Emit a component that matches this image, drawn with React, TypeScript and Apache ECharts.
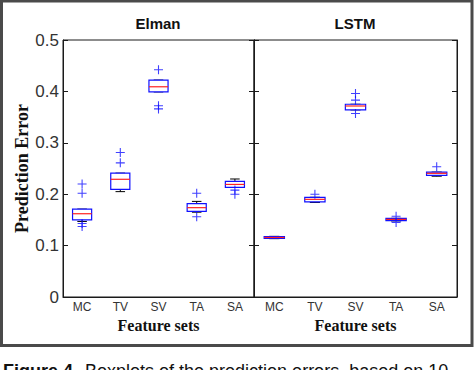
import React, { useEffect, useRef } from "react";
import * as echarts from "echarts";

const categories = ["MC", "TV", "SV", "TA", "SA"];
const yTicks = [0, 0.1, 0.2, 0.3, 0.4, 0.5];

// [lower whisker, Q1, median, Q3, upper whisker]
const elmanBoxes = [
  [0.147, 0.15, 0.162, 0.171, 0.171],
  [0.205, 0.2095, 0.229, 0.241, 0.241],
  [0.399, 0.399, 0.409, 0.422, 0.422],
  [0.165, 0.1667, 0.1738, 0.1816, 0.186],
  [0.2134, 0.2134, 0.219, 0.225, 0.2296],
];
// [category index, value]
const elmanOutliers = [
  [0, 0.22], [0, 0.202], [0, 0.143], [0, 0.137],
  [1, 0.281], [1, 0.261],
  [2, 0.442], [2, 0.372], [2, 0.366],
  [3, 0.202], [3, 0.156],
  [4, 0.208], [4, 0.2],
];

const lstmBoxes = [
  [0.1135, 0.1138, 0.1158, 0.1175, 0.118],
  [0.184, 0.185, 0.19, 0.194, 0.194],
  [0.364, 0.364, 0.3716, 0.375, 0.375],
  [0.148, 0.1485, 0.151, 0.153, 0.153],
  [0.235, 0.2367, 0.2406, 0.243, 0.243],
];
const lstmOutliers = [
  [1, 0.2],
  [2, 0.396], [2, 0.383], [2, 0.357],
  [3, 0.157], [3, 0.145],
  [4, 0.2535],
];

const panelTitles = ["Elman", "LSTM"];
const xName = "Feature sets";
const yName = "Prediction Error";
const captionLabel = "Figure 4.";
const captionText = "Boxplots of the prediction errors, based on 10";

const SANS = "Liberation Sans, Arial, sans-serif";
const SERIF = "Liberation Serif, Times New Roman, serif";
const BLUE = "#1010ff";
const PLUS = "path://M4.4,0H5.6V4.4H10V5.6H5.6V10H4.4V5.6H0V4.4H4.4Z";

function renderBox(params: any, api: any) {
  const idx = api.value(0);
  const lw = api.coord([idx, api.value(1)]);
  const q1 = api.coord([idx, api.value(2)]);
  const md = api.coord([idx, api.value(3)]);
  const q3 = api.coord([idx, api.value(4)]);
  const uw = api.coord([idx, api.value(5)]);
  const band = api.size([1, 0])[0];
  const bw = band * 0.5;
  const cw = bw * 0.5;
  const x = lw[0];
  const children: any[] = [];
  const whiskerStyle = { stroke: "#000", lineWidth: 1, lineDash: [3, 2] };
  const capStyle = { stroke: "#000", lineWidth: 1 };
  if (Math.abs(uw[1] - q3[1]) > 0.5) {
    children.push({ type: "line", shape: { x1: x, y1: q3[1], x2: x, y2: uw[1] }, style: whiskerStyle });
  }
  if (Math.abs(lw[1] - q1[1]) > 0.5) {
    children.push({ type: "line", shape: { x1: x, y1: q1[1], x2: x, y2: lw[1] }, style: whiskerStyle });
  }
  children.push({ type: "line", shape: { x1: x - cw / 2, y1: uw[1], x2: x + cw / 2, y2: uw[1] }, style: capStyle });
  children.push({ type: "line", shape: { x1: x - cw / 2, y1: lw[1], x2: x + cw / 2, y2: lw[1] }, style: capStyle });
  children.push({
    type: "rect",
    shape: { x: x - bw / 2, y: q3[1], width: bw, height: Math.max(q1[1] - q3[1], 1) },
    style: { fill: "#fff", stroke: BLUE, lineWidth: 1.2 },
  });
  children.push({
    type: "line",
    shape: { x1: x - bw / 2, y1: md[1], x2: x + bw / 2, y2: md[1] },
    style: { stroke: "#ff2020", lineWidth: 1.2 },
  });
  return { type: "group", children };
}

export default function App() {
  const ref = useRef<HTMLDivElement>(null);
  useEffect(() => {
    if (!ref.current) return;
    const chart = echarts.init(ref.current, undefined, { renderer: "svg" });
    const grids = [
      { left: 63, top: 40, width: 191, height: 257 },
      { left: 254, top: 40, width: 203, height: 257 },
    ];
    const axisLine = { show: true, lineStyle: { color: "#1a1a1a", width: 1 } };
    const xAxes = grids.map((_, i) => ({
      type: "category",
      gridIndex: i,
      data: categories,
      axisLine,
      axisTick: { show: false },
      axisLabel: { fontFamily: SANS, fontSize: 12, color: "#333", margin: 4 },
      name: xName,
      nameLocation: "middle",
      nameGap: 14,
      nameTextStyle: { fontFamily: SERIF, fontWeight: "bold", fontSize: 16, color: "#111" },
      splitLine: { show: false },
    }));
    const yAxes: any[] = [];
    grids.forEach((_, i) => {
      ["left", "right"].forEach((pos) => {
        const isMain = i === 0 && pos === "left";
        yAxes.push({
          type: "value",
          gridIndex: i,
          position: pos,
          min: yTicks[0],
          max: yTicks[yTicks.length - 1],
          interval: 0.1,
          axisLine,
          axisTick: { show: true, inside: true, length: 5, lineStyle: { color: "#1a1a1a" } },
          axisLabel: {
            show: isMain,
            fontFamily: SANS,
            fontSize: 17,
            color: "#333",
            margin: 4,
            formatter: (v: number) => (v === 0 ? "0" : v.toFixed(1)),
          },
          splitLine: { show: false },
          name: isMain ? yName : "",
          nameLocation: "middle",
          nameGap: 30,
          nameTextStyle: { fontFamily: SERIF, fontWeight: "bold", fontSize: 18, color: "#111" },
        });
      });
    });
    const boxSets = [elmanBoxes, lstmBoxes];
    const outlierSets = [elmanOutliers, lstmOutliers];
    const series: any[] = [];
    boxSets.forEach((boxes, i) => {
      series.push({
        type: "custom",
        xAxisIndex: i,
        yAxisIndex: i * 2,
        renderItem: renderBox,
        encode: { x: 0, y: [1, 2, 3, 4, 5] },
        data: boxes.map((b, k) => [k, ...b]),
        z: 2,
      });
      series.push({
        type: "scatter",
        xAxisIndex: i,
        yAxisIndex: i * 2,
        symbol: PLUS,
        symbolSize: 9,
        itemStyle: { color: BLUE },
        data: outlierSets[i],
        z: 3,
      });
    });
    chart.setOption({
      animation: false,
      backgroundColor: "#fff",
      grid: grids.map((g) => ({ ...g, show: true, borderColor: "#1a1a1a", borderWidth: 1, containLabel: false })),
      xAxis: xAxes,
      yAxis: yAxes,
      series,
      graphic: [
        {
          type: "rect",
          shape: { x: 1.5, y: 1, width: 470.5, height: 344.5 },
          style: { fill: "none", stroke: "#4a4a4a", lineWidth: 3 },
          silent: true,
        },
        {
          type: "text",
          x: 158,
          y: 23,
          style: { text: panelTitles[0], align: "center", verticalAlign: "middle", font: `bold 15px ${SANS}`, fill: "#111" },
        },
        {
          type: "text",
          x: 355,
          y: 23,
          style: { text: panelTitles[1], align: "center", verticalAlign: "middle", font: `bold 15px ${SANS}`, fill: "#111" },
        },
        {
          type: "text",
          x: 3,
          y: 362,
          style: { text: captionLabel, align: "left", verticalAlign: "top", font: `bold 18px ${SANS}`, fill: "#111" },
        },
        {
          type: "text",
          x: 85,
          y: 362,
          style: { text: captionText, align: "left", verticalAlign: "top", font: `18px ${SANS}`, fill: "#111" },
        },
      ],
    });
    return () => chart.dispose();
  }, []);
  return <div ref={ref} style={{ position: "absolute", left: 0, top: 0, width: 474, height: 370 }} />;
}
